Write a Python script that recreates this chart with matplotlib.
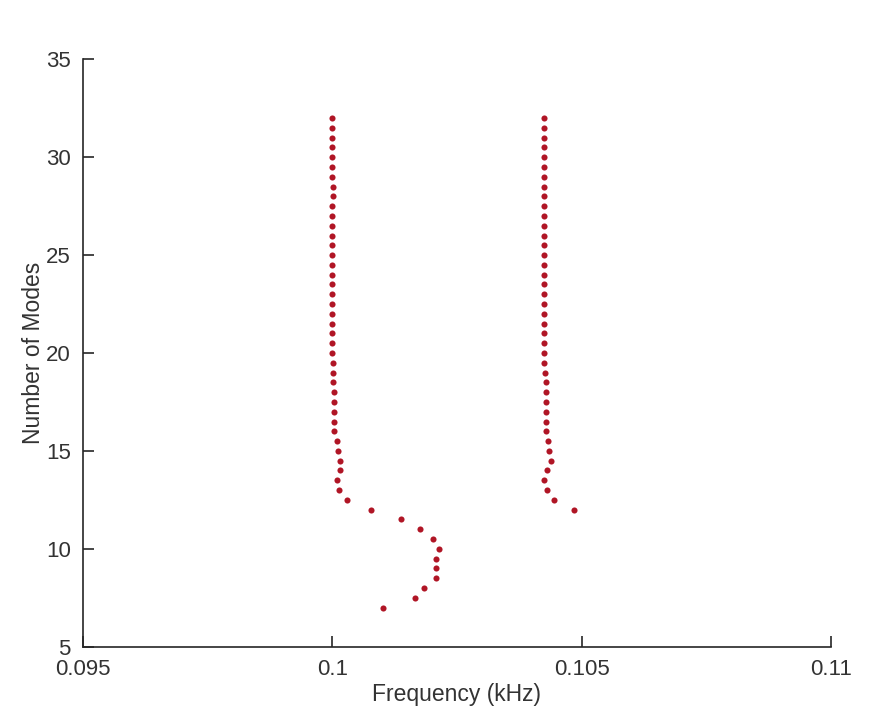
import matplotlib
matplotlib.use("Agg")
import matplotlib.pyplot as plt

# Data (frequency in kHz vs number of modes)
modes_a = [7, 7.5, 8, 8.5, 9, 9.5, 10, 10.5, 11, 11.5, 12, 12.5, 13, 13.5,
           14, 14.5, 15, 15.5, 16, 16.5, 17, 17.5, 18, 18.5, 19, 19.5, 20,
           20.5, 21, 21.5, 22, 22.5, 23, 23.5, 24, 24.5, 25, 25.5, 26, 26.5,
           27, 27.5, 28, 28.5, 29, 29.5, 30, 30.5, 31, 31.5, 32]
freq_a = [0.10101, 0.10166, 0.10184, 0.10207, 0.10207, 0.10207, 0.10214,
          0.10202, 0.10176, 0.10138, 0.10078, 0.10030, 0.10013, 0.10010,
          0.10015, 0.10015, 0.10012, 0.10009, 0.10004, 0.10003, 0.10003,
          0.10004, 0.10003, 0.10001, 0.10001, 0.10001, 0.10000, 0.10000,
          0.10000, 0.10000, 0.10000, 0.10000, 0.10000, 0.10000, 0.10000,
          0.10000, 0.10000, 0.10000, 0.10000, 0.10000, 0.10000, 0.10000,
          0.10001, 0.10001, 0.10000, 0.10000, 0.10000, 0.10000, 0.10000,
          0.10000, 0.10000]

modes_b = [12, 12.5, 13, 13.5, 14, 14.5, 15, 15.5, 16, 16.5, 17, 17.5, 18,
           18.5, 19, 19.5, 20, 20.5, 21, 21.5, 22, 22.5, 23, 23.5, 24, 24.5,
           25, 25.5, 26, 26.5, 27, 27.5, 28, 28.5, 29, 29.5, 30, 30.5, 31,
           31.5, 32]
freq_b = [0.10485, 0.10445, 0.10430, 0.10425, 0.10430, 0.10439, 0.10435,
          0.10433, 0.10428, 0.10428, 0.10428, 0.10428, 0.10428, 0.10428,
          0.10427, 0.10425, 0.10425, 0.10425, 0.10425, 0.10425, 0.10425,
          0.10425, 0.10425, 0.10425, 0.10425, 0.10425, 0.10425, 0.10425,
          0.10425, 0.10425, 0.10425, 0.10425, 0.10425, 0.10425, 0.10425,
          0.10425, 0.10425, 0.10425, 0.10425, 0.10425, 0.10425]

x_ticks = [0.095, 0.1, 0.105, 0.11]
x_labels = ["0.095", "0.1", "0.105", "0.11"]
y_ticks = [5, 10, 15, 20, 25, 30, 35]

plt.rcParams['font.family'] = ['Liberation Sans', 'DejaVu Sans']
text_color = "#333333"
dot_color = "#b01525"

fig = plt.figure(figsize=(8.91, 7.24), dpi=100)
ax = fig.add_axes([0.0935, 0.1068, 0.8388, 0.8113])

ax.plot(freq_a, modes_a, linestyle='none', marker='o', markersize=4.4,
        color=dot_color, markeredgewidth=0)
ax.plot(freq_b, modes_b, linestyle='none', marker='o', markersize=4.4,
        color=dot_color, markeredgewidth=0)

ax.set_xlim(0.095, 0.11)
ax.set_ylim(5, 35)
ax.set_xticks(x_ticks)
ax.set_xticklabels(x_labels)
ax.set_yticks(y_ticks)

# MATLAB look: box off, ticks inside
for side in ("top", "right"):
    ax.spines[side].set_visible(False)
for side in ("left", "bottom"):
    ax.spines[side].set_color("#262626")
    ax.spines[side].set_linewidth(1.2)
ax.tick_params(direction='in', length=8, width=1.2, colors="#262626",
               labelsize=16, labelcolor=text_color, pad=9)

ax.set_xlabel("Frequency (kHz)", fontsize=16.5, color=text_color, labelpad=2)
ax.set_ylabel("Number of Modes", fontsize=16.5, color=text_color, labelpad=1)

fig.savefig("out.png", dpi=100)
plt.close(fig)
